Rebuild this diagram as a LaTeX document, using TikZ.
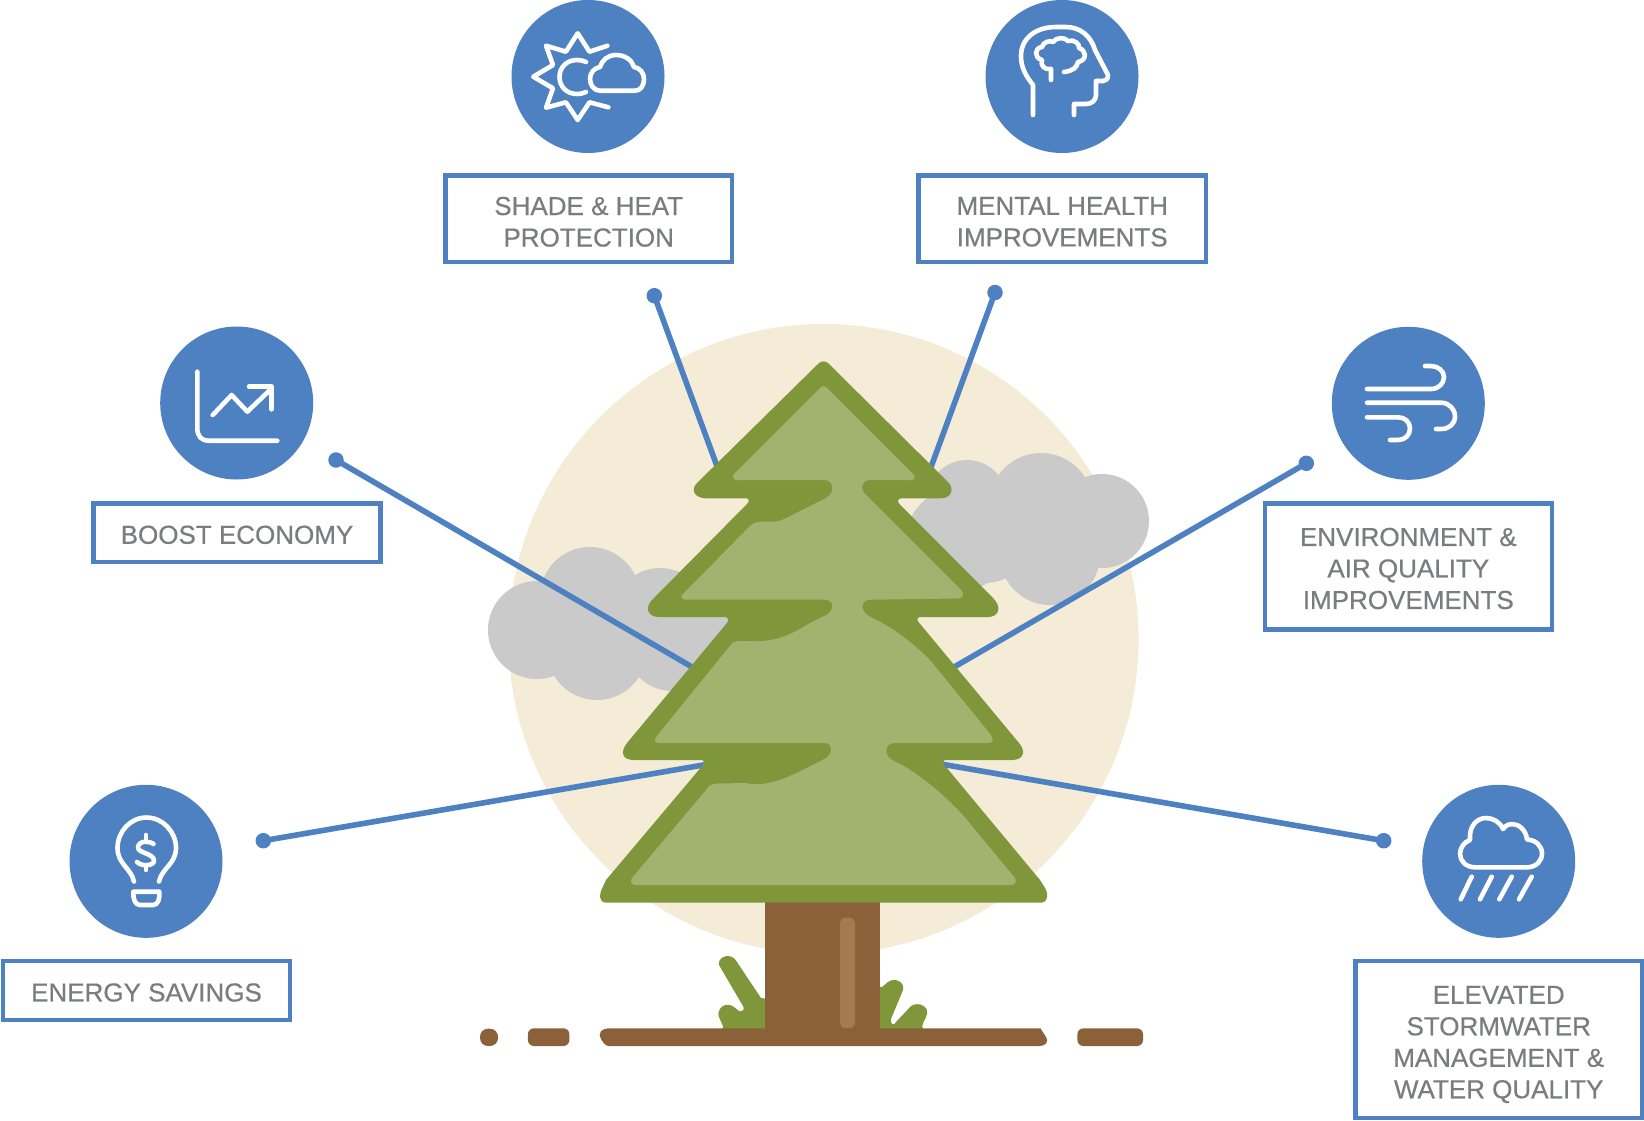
\documentclass[tikz,border=0pt]{standalone}
\usepackage{fontspec}
\setmainfont{Liberation Sans}
\newfontfamily\labelfont[FakeBold=0.5]{Liberation Sans}
\definecolor{bluemain}{HTML}{4E81C2}
\definecolor{textgrey}{HTML}{7A7C7E}
\definecolor{beige}{HTML}{F4ECD7}
\definecolor{cloudgrey}{HTML}{CACACA}
\definecolor{treedark}{HTML}{7F963B}
\definecolor{treelight}{HTML}{A1B36F}
\definecolor{barkbrown}{HTML}{8A6139}
\definecolor{barklight}{HTML}{A27B52}
\tikzset{
  iconcircle/.style={circle,fill=bluemain,minimum size=153pt,inner sep=0pt,outer sep=0pt},
  labelbox/.style={rectangle,draw=bluemain,line width=4.4pt,fill=white,inner sep=0pt,outer sep=0pt},
  labeltext/.style={inner sep=0pt,outer sep=0pt,text=textgrey,align=center,font=\labelfont\fontsize{26}{31.5}\selectfont},
  enddot/.style={circle,fill=bluemain,minimum size=15.5pt,inner sep=0pt,outer sep=0pt},
  connector/.style={draw=bluemain,line width=5.6pt},
  iconline/.style={draw=white,line width=4.6pt,line cap=round,line join=round},
}
\begin{document}
\begin{tikzpicture}[x=1pt,y=-1pt]
\useasboundingbox (0,0) rectangle (1644,1120);
\fill[white] (0,0) rectangle (1644,1120);
% sun disc
\fill[beige] (823.6,639) circle[radius=315];
% clouds
\fill[cloudgrey] (537,630) circle[radius=49] (590,597) circle[radius=50] (597,650) circle[radius=50]
  (660,615) circle[radius=47] (672,645) circle[radius=46] (600,620) circle[radius=45] (640,640) circle[radius=35] (690,640) circle[radius=47];
\fill[cloudgrey] (1102,521) circle[radius=47] (1041,505) circle[radius=52] (967,500) circle[radius=40]
  (1050,555) circle[radius=50] (985,535) circle[radius=48] (958,540) circle[radius=52] (1030,530) circle[radius=45];
% anchors for connectors
\coordinate (endTL) at (721,477);
\coordinate (endTR) at (927,478);
\coordinate (endL) at (705,674.5);
\coordinate (endR) at (942,674);
\coordinate (endBL) at (715,763);
\coordinate (endBR) at (935,763);
\node[enddot] (dotTL) at (654.3,295.7) {};
\node[enddot] (dotTR) at (995,292.5) {};
\node[enddot] (dotL) at (336,460) {};
\node[enddot] (dotR) at (1306.3,463.3) {};
\node[enddot] (dotBL) at (263.3,840.7) {};
\node[enddot] (dotBR) at (1383.7,840.7) {};
\draw[connector] (dotTL.center) -- (endTL);
\draw[connector] (dotTR.center) -- (endTR);
\draw[connector] (dotL.center) -- (endL);
\draw[connector] (dotR.center) -- (endR);
\draw[connector] (dotBL.center) -- (endBL);
\draw[connector] (dotBR.center) -- (endBR);
% grass
\fill[treedark] (719,965) .. controls (717,957) and (731,951) .. (737,962) -- (761,998) -- (768,999) -- (768,1030) -- (723,1030)
  .. controls (725,1024) and (716,1018) .. (719,1011) .. controls (722,1004) and (728,1003) .. (734,1007) -- (739,1011)
  .. controls (743,1012) and (745,1009) .. (743,1006) -- cycle;
\fill[treedark] (878,987) -- (882,987) -- (888,982) .. controls (895,977) and (905,982) .. (903,990) -- (891,1019)
  .. controls (890,1025) and (894,1026) .. (896,1022) -- (911,1006) .. controls (919,1001) and (929,1007) .. (927,1014)
  .. controls (926,1020) and (920,1024) .. (923,1030) -- (878,1030) -- cycle;
% trunk
\fill[barkbrown] (765,895) rectangle (880,1035);
\fill[barklight,rounded corners=5pt] (840,917.7) rectangle (855,1028.3);
% ground
\fill[barkbrown] (610,1028.3) -- (1040.4,1028.3) -- (1046,1037) .. controls (1049,1041) and (1046,1046) .. (1040,1046)
  -- (609,1046) .. controls (605,1046) and (603,1042) .. (601,1039) .. controls (598,1034) and (600,1028.3) .. (610,1028.3) -- cycle;
\fill[barkbrown,rounded corners=8pt] (480,1028.7) rectangle (498,1046);
\fill[barkbrown,rounded corners=6pt] (527.9,1028.3) rectangle (569.4,1046);
\fill[barkbrown,rounded corners=6pt] (1077.4,1028.3) rectangle (1143,1046);
% tree outer
\fill[treedark] (818,364) .. controls (821,360.5) and (826,360.5) .. (829,364)
  -- (948,482) .. controls (955,489) and (951,498.3) .. (941,498.3)
  -- (902,498.3) .. controls (898,498.3) and (897,501) .. (899,503.5)
  -- (993.3,598.3) .. controls (1002,607) and (999,617) .. (988,617)
  -- (921,617) .. controls (917,617) and (916.5,619.5) .. (918.5,622)
  -- (1019,743) .. controls (1026,751) and (1024,760) .. (1012,760)
  -- (946,760) .. controls (943,760) and (942.5,762) .. (944,764.5)
  -- (1040,880) .. controls (1045,888) and (1048,891) .. (1047,897) .. controls (1046.5,901) and (1044,902.7) .. (1040,902.7)
  -- (607,902.7) .. controls (602,902.7) and (600,900) .. (600,897) .. controls (600,891) and (603,887) .. (606,880)
  -- (703,765) .. controls (705,762) and (704,760) .. (701,760)
  -- (634,760) .. controls (622,760) and (620,752) .. (627,743)
  -- (727,623) .. controls (729,620) and (728,617) .. (725,617)
  -- (659,617) .. controls (647,617) and (645,607) .. (652,600)
  -- (747,504) .. controls (750,501) and (749,498.3) .. (746,498.3)
  -- (706,498.3) .. controls (695,498.3) and (690,490) .. (697,483)
  -- cycle;
% tree inner
\fill[treelight] (820,388) .. controls (822,385.5) and (825,385.5) .. (827,388)
  -- (913,474) .. controls (916,477) and (915,480) .. (911,480)
  -- (870,480) .. controls (861,480) and (860,490) .. (866,495)
  -- (961,590) .. controls (965,594) and (963,598) .. (958,598.5)
  -- (870,599.7) .. controls (860,599.7) and (860,612) .. (870,616.7)
  .. controls (890,626) and (910,640) .. (930,660)
  -- (991,735) .. controls (994,740) and (993,742.7) .. (988,743)
  -- (895,743) .. controls (884,743) and (884,755) .. (892,760)
  .. controls (915,770) and (945,795) .. (964.5,817)
  -- (1015,878) .. controls (1017,882) and (1015,885) .. (1011,885)
  -- (636,885) .. controls (631,885) and (630,881) .. (632,878)
  -- (706,790) .. controls (709,785) and (712,783.5) .. (718,783.5)
  -- (745,783) .. controls (768,788) and (790,777) .. (826,758)
  .. controls (832,754) and (834,743) .. (824,743)
  -- (659,743) .. controls (655,743) and (654,740) .. (656,737)
  -- (729,647) .. controls (732,643) and (734,641) .. (740,641)
  -- (757,641) .. controls (780,641) and (795,632) .. (810,623)
  -- (826,615) .. controls (834,611) and (835,599.7) .. (825,599.7)
  -- (686,599.7) .. controls (681,599.7) and (680,596) .. (683,594)
  -- (750,526) .. controls (753,523) and (756,521.7) .. (762,521.7)
  -- (770,521.7) .. controls (780,521.7) and (785,519) .. (792,515)
  -- (825,498.5) .. controls (835,494) and (835,480) .. (824,480)
  -- (737,480) .. controls (733,480) and (732,477) .. (734,474)
  -- cycle;
% icon discs
\node[iconcircle] (cShade) at (588,76.5) {};
\node[iconcircle] (cMental) at (1062,76.5) {};
\node[iconcircle] (cEconomy) at (236.7,403) {};
\node[iconcircle] (cAir) at (1408.3,403.3) {};
\node[iconcircle] (cEnergy) at (146,861.3) {};
\node[iconcircle] (cWater) at (1498.7,861.3) {};
% label boxes
\node[labelbox,minimum width=286.1pt,minimum height=86.6pt] (bShade) at (588.7,218.8) {};
\node[labelbox,minimum width=287.1pt,minimum height=86.6pt] (bMental) at (1062.2,218.8) {};
\node[labelbox,minimum width=287pt,minimum height=58.6pt] (bEconomy) at (237,532.8) {};
\node[labelbox,minimum width=287.2pt,minimum height=58.6pt] (bEnergy) at (146.5,990.5) {};
\node[labelbox,minimum width=286.9pt,minimum height=126pt] (bAir) at (1408.3,566.5) {};
\node[labelbox,minimum width=286.3pt,minimum height=156.6pt] (bWater) at (1498.7,1039.5) {};
\node[labeltext,yshift=-3pt] (tShade) at (bShade) {SHADE \& HEAT\\PROTECTION};
\node[labeltext,yshift=-3pt] (tMental) at (bMental) {MENTAL HEALTH\\IMPROVEMENTS};
\node[labeltext,yshift=-2pt] (tEconomy) at (bEconomy) {BOOST ECONOMY};
\node[labeltext,yshift=-2pt] (tEnergy) at (bEnergy) {ENERGY SAVINGS};
\node[labeltext,yshift=-2pt] (tAir) at (bAir) {ENVIRONMENT \&\\AIR QUALITY\\IMPROVEMENTS};
\node[labeltext,yshift=-5pt] (tWater) at (bWater) {ELEVATED\\STORMWATER\\MANAGEMENT \&\\WATER QUALITY};
% icon: sun and cloud
\draw[iconline] (607.4,45.7) -- (589.5,51.7) -- (577.7,33.3) -- (565.9,51.7) -- (546,45.7) -- (553,65) -- (533.3,76.7) -- (553,88.3)
  -- (546,107.7) -- (565.9,102.3) -- (577.7,120) -- (589.5,102.3) -- (608.4,107.3);
\draw[iconline] (586,62) .. controls (583,60.5) and (580,60) .. (577,60) .. controls (567,60) and (559.5,67) .. (559.5,77)
  .. controls (559.5,87) and (567,94) .. (577,94) .. controls (580,94) and (583,93.5) .. (586,92);
\draw[iconline] (600,90.7) -- (635,90.7) .. controls (641,90.7) and (644,85) .. (644,79) .. controls (644,73) and (640,68) .. (634,67)
  .. controls (632,60) and (625,55) .. (616,55) .. controls (608,55) and (602,60) .. (600,67)
  .. controls (594,68) and (590,73) .. (590,79) .. controls (590,85) and (594,90.7) .. (600,90.7) -- cycle;
% icon: head
\draw[iconline] (1033,115) -- (1033,85) .. controls (1026,76) and (1021,68) .. (1021,56)
  .. controls (1021,38) and (1036,27) .. (1056,27) -- (1066,27) .. controls (1080,27) and (1091,36) .. (1095,50)
  -- (1108,75) .. controls (1108,79) and (1106,81) .. (1103,81) -- (1096,81) -- (1096,95)
  .. controls (1096,100) and (1092,104) .. (1086,104) -- (1074,104) -- (1074,115);
\draw[iconline] (1051,80) -- (1051,69) .. controls (1045,70) and (1040,66) .. (1042,60) .. controls (1034,58) and (1034,48) .. (1042,47)
  .. controls (1043,42) and (1050,40) .. (1053,42) .. controls (1056,37) and (1065,37) .. (1068,41) .. controls (1074,39) and (1080,44) .. (1079,48)
  .. controls (1086,50) and (1088,60) .. (1078,62) .. controls (1077,68) and (1072,71) .. (1064,72);
% icon: chart
\draw[iconline] (197.3,371.7) -- (197.3,428) .. controls (197.3,436) and (201,440.7) .. (209,440.7) -- (277.3,440.7);
\draw[iconline] (212.7,415) -- (231.7,395) -- (247.3,411.7) -- (271.7,388.3);
\draw[iconline] (249,386.7) -- (271.7,386.7) -- (271.7,409.3);
% icon: wind
\draw[iconline] (1367,389) -- (1431,389) .. controls (1439,389) and (1444,383) .. (1444,377) .. controls (1444,371) and (1438,366) .. (1431,366) -- (1425,366);
\draw[iconline] (1367,402.7) -- (1441,402.7) .. controls (1449,402.7) and (1455,409) .. (1455,416.5) .. controls (1455,424) and (1449,429) .. (1441,429) -- (1436,429);
\draw[iconline] (1367,417.3) -- (1398,417.3) .. controls (1405,417.3) and (1410,422) .. (1410,428.5) .. controls (1410,435) and (1405,440) .. (1398,440) -- (1390,440);
% icon: bulb with dollar
\draw[iconline] (134,881.5) .. controls (131,868) and (117.5,864) .. (117.5,848) .. controls (117.5,832) and (130,817.5) .. (146.5,817.5)
  .. controls (163,817.5) and (176,832) .. (176,848) .. controls (176,864) and (162,868) .. (159,881.5);
\draw[iconline] (133.3,891.7) -- (159.3,891.7) .. controls (160,899) and (158,905) .. (153,905) -- (140,905) .. controls (135,905) and (133,899) .. (133.3,891.7) -- cycle;
\draw[iconline] (153.5,844) .. controls (150,841) and (139,840) .. (138,847) .. controls (137,853) and (153,853) .. (154,860) .. controls (155,866) and (142,867) .. (137,862);
\draw[iconline] (146,835) -- (146,840);
\draw[iconline] (146,865) -- (146,870);
% icon: rain cloud
\draw[iconline] (1475,867.3) -- (1527,867.3) .. controls (1536,867.3) and (1542,861) .. (1542,853.5) .. controls (1542,846) and (1536,840) .. (1527,839.5)
  .. controls (1526,830) and (1519,824) .. (1512,824) .. controls (1509,824) and (1506,825) .. (1503,829)
  .. controls (1500,822) and (1493,818) .. (1486,818) .. controls (1477,818) and (1470,826) .. (1470,836) -- (1470,840)
  .. controls (1464,842) and (1460,848) .. (1460,854) .. controls (1460,861) and (1466,867.3) .. (1475,867.3) -- cycle;
\draw[iconline] (1471.7,876.7) -- (1460.7,899.3);
\draw[iconline] (1491.7,876.7) -- (1480,899.3);
\draw[iconline] (1511.7,876.7) -- (1499.3,899.3);
\draw[iconline] (1531.7,876.7) -- (1519,899.3);
\end{tikzpicture}
\end{document}
